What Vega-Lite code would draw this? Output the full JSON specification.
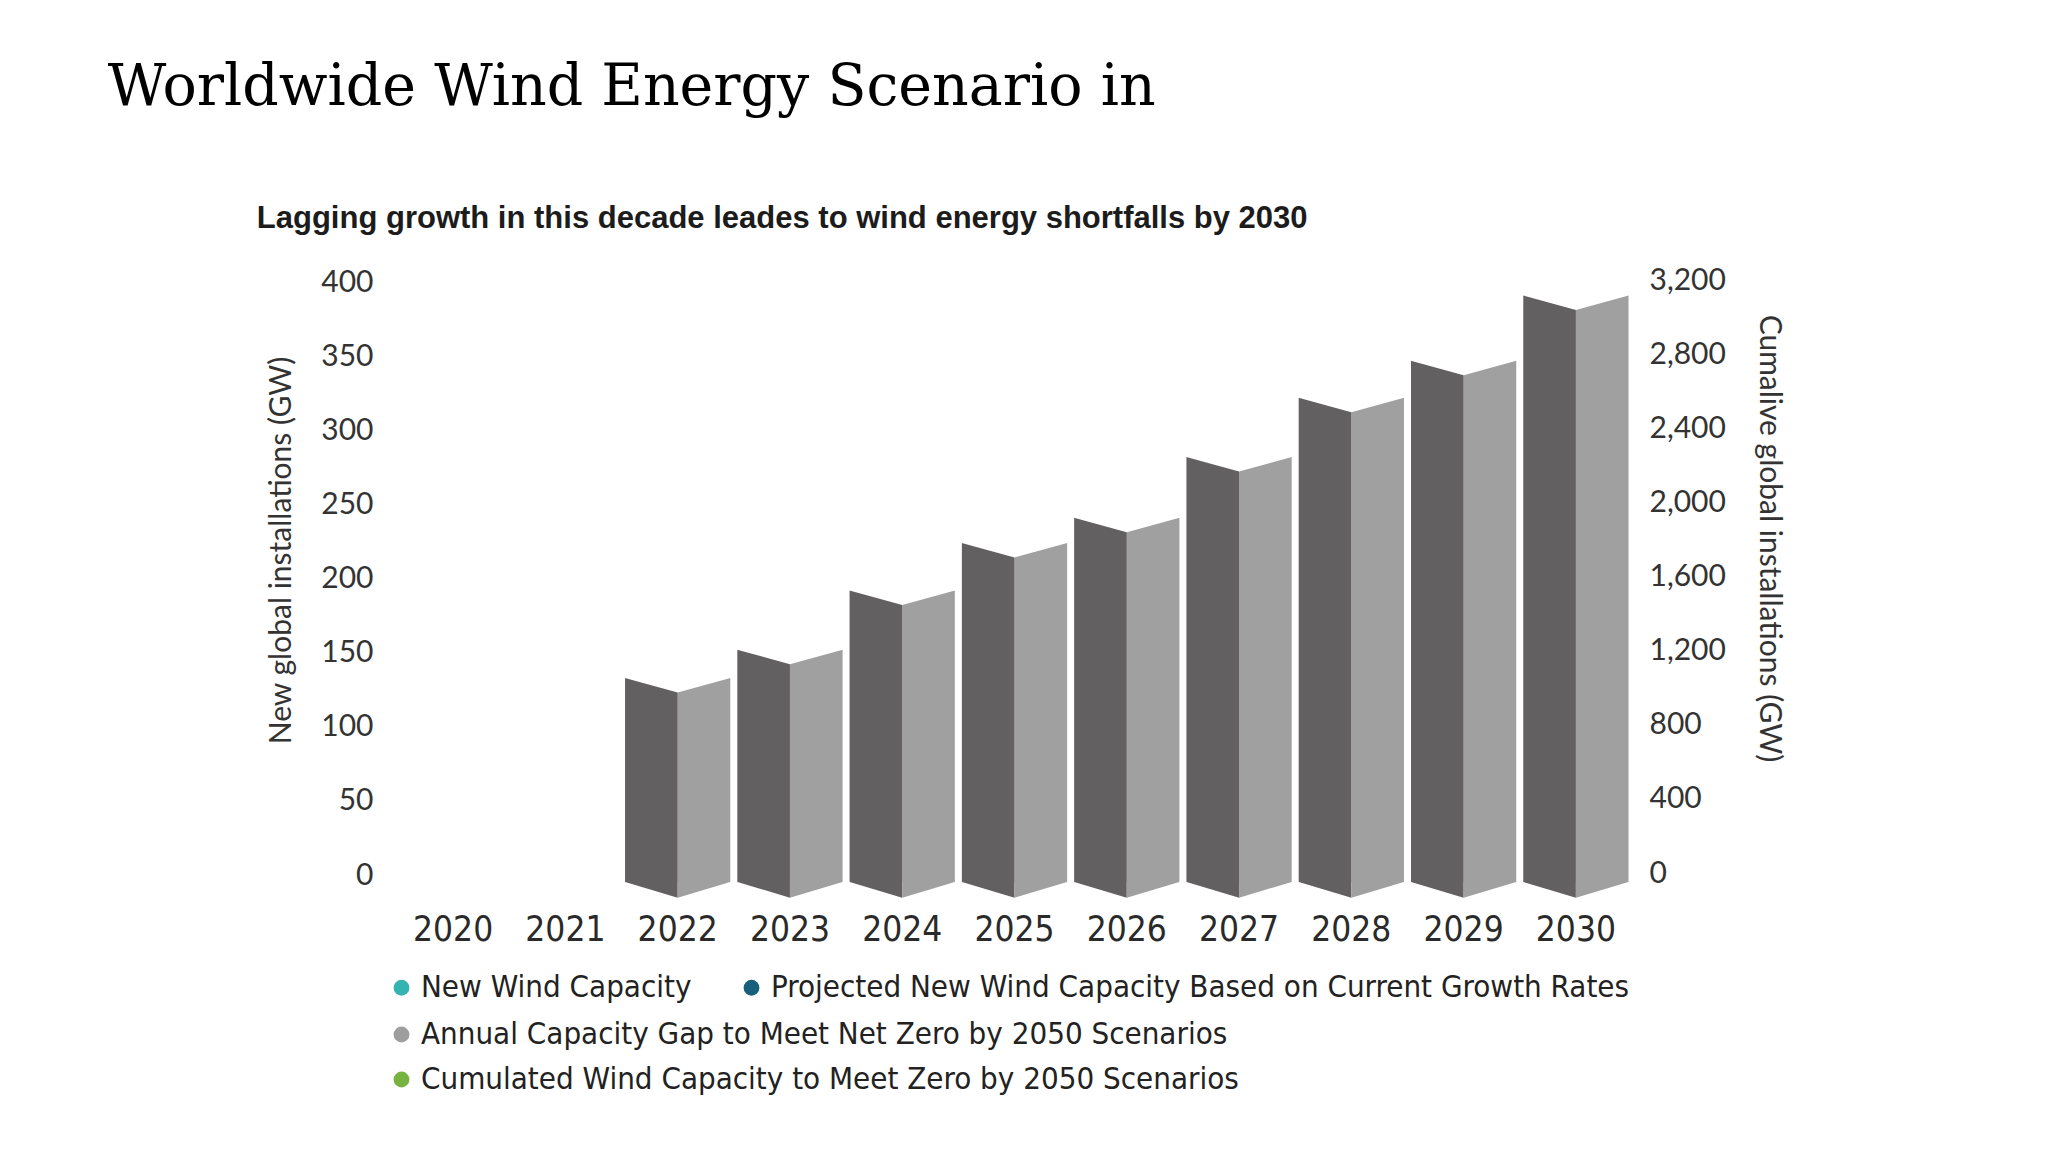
{
  "$schema": "https://vega.github.io/schema/vega-lite/v6.json",
  "background": "white",
  "padding": {"left": 107, "top": 59, "right": 20, "bottom": 0},
  "config": {
    "view": {"stroke": null},
    "axis": {"grid": false, "ticks": false, "domain": false}
  },
  "title": {
    "text": "Worldwide Wind Energy Scenario in",
    "anchor": "start",
    "dx": -149,
    "font": "DejaVu Serif",
    "fontSize": 57,
    "fontWeight": "normal",
    "color": "#000000",
    "offset": 86
  },
  "vconcat": [
    {
      "width": 1235,
      "height": 593,
      "title": {
        "text": "Lagging growth in this decade leades to wind energy shortfalls by 2030",
        "anchor": "start",
        "frame": "bounds",
        "dx": -10,
        "font": "Liberation Sans",
        "fontSize": 31,
        "fontWeight": "bold",
        "color": "#1c1c1c",
        "offset": 30
      },
      "data": {
        "values": [
          {"year": 2022, "measure": "New", "value": 138},
          {"year": 2023, "measure": "New", "value": 157},
          {"year": 2024, "measure": "New", "value": 197},
          {"year": 2025, "measure": "New", "value": 229},
          {"year": 2026, "measure": "New", "value": 246},
          {"year": 2027, "measure": "New", "value": 287},
          {"year": 2028, "measure": "New", "value": 327},
          {"year": 2029, "measure": "New", "value": 352},
          {"year": 2030, "measure": "New", "value": 396},
          {"year": 2022, "measure": "Cumulative", "value": 1104},
          {"year": 2023, "measure": "Cumulative", "value": 1256},
          {"year": 2024, "measure": "Cumulative", "value": 1576},
          {"year": 2025, "measure": "Cumulative", "value": 1832},
          {"year": 2026, "measure": "Cumulative", "value": 1968},
          {"year": 2027, "measure": "Cumulative", "value": 2296},
          {"year": 2028, "measure": "Cumulative", "value": 2616},
          {"year": 2029, "measure": "Cumulative", "value": 2816},
          {"year": 2030, "measure": "Cumulative", "value": 3168}
        ]
      },
      "layer": [
        {
          "transform": [{"filter": "datum.measure === 'Cumulative'"}],
          "mark": {"type": "bar", "color": "#a0a0a0"},
          "encoding": {
            "x": {
              "field": "year",
              "type": "ordinal",
              "scale": {"domain": [2020, 2021, 2022, 2023, 2024, 2025, 2026, 2027, 2028, 2029, 2030], "paddingInner": 0.0625, "paddingOuter": 0.031},
              "axis": {
                "title": null,
                "labelAngle": 0,
                "labelPadding": 30,
                "labelFont": "Liberation Sans Narrow, DejaVu Sans Condensed",
                "labelFontSize": 35,
                "labelColor": "#2a2a2a"
              }
            },
            "xOffset": {"field": "measure", "type": "nominal", "scale": {"domain": ["New", "Cumulative"], "paddingInner": 0, "paddingOuter": 0}},
            "y": {
              "field": "value",
              "type": "quantitative",
              "scale": {"domain": [0, 3200], "nice": false},
              "axis": {
                "orient": "right",
                "values": [0, 400, 800, 1200, 1600, 2000, 2400, 2800, 3200],
                "format": ",.0f",
                "labelPadding": 17,
                "labelOffset": -9,
                "labelFont": "Lato",
                "labelFontSize": 30,
                "labelColor": "#333333",
                "title": "Cumalive global installations (GW)",
                "titleFont": "Lato",
                "titleFontSize": 30,
                "titleFontWeight": "normal",
                "titleColor": "#333333",
                "titlePadding": 28,
                "titleY": 249
              }
            }
          }
        },
        {
          "layer": [
            {
              "transform": [{"filter": "datum.measure === 'New'"}],
              "mark": {"type": "bar", "color": "#636061"},
              "encoding": {
                "x": {"field": "year", "type": "ordinal"},
                "xOffset": {"field": "measure", "type": "nominal", "scale": {"domain": ["New", "Cumulative"], "paddingInner": 0, "paddingOuter": 0}},
                "y": {
                  "field": "value",
                  "type": "quantitative",
                  "scale": {"domain": [0, 400], "nice": false},
                  "axis": {
                    "orient": "left",
                    "values": [0, 50, 100, 150, 200, 250, 300, 350, 400],
                    "labelPadding": 24,
                    "labelOffset": -7,
                    "labelFont": "Lato",
                    "labelFontSize": 30,
                    "labelColor": "#333333",
                    "title": "New global installations (GW)",
                    "titleFont": "Lato",
                    "titleFontSize": 30,
                    "titleFontWeight": "normal",
                    "titleColor": "#333333",
                    "titlePadding": 24,
                    "titleY": 261
                  }
                }
              }
            },
            {
              "transform": [{"filter": "datum.measure === 'New'"}],
              "mark": {"type": "point", "filled": true, "opacity": 1, "color": "#636061", "shape": "M-1,0L0,0L0,0.3Z", "size": 11025, "strokeWidth": 0},
              "encoding": {
                "x": {"field": "year", "type": "ordinal"},
                "y": {"datum": 0, "type": "quantitative"}
              }
            },
            {
              "transform": [{"filter": "datum.measure === 'New'"}],
              "mark": {"type": "point", "filled": true, "opacity": 1, "color": "#a0a0a0", "shape": "M0,0L1,0L0,0.3Z", "size": 11025, "strokeWidth": 0},
              "encoding": {
                "x": {"field": "year", "type": "ordinal"},
                "y": {"datum": 0, "type": "quantitative"}
              }
            },
            {
              "transform": [{"filter": "datum.measure === 'New'"}],
              "mark": {"type": "point", "filled": true, "opacity": 1, "color": "#ffffff", "shape": "M-1.03,-0.03L1.03,-0.03L1.03,0L0,0.283L-1.03,0Z", "size": 11236, "strokeWidth": 0},
              "encoding": {
                "x": {"field": "year", "type": "ordinal"},
                "y": {"field": "value", "type": "quantitative"}
              }
            }
          ]
        },
        {
          "data": {"values": [{"series": "New Wind Capacity"}, {"series": "Projected New Wind Capacity Based on Current Growth Rates"}]},
          "mark": {"type": "point", "filled": true, "opacity": 0, "shape": "circle"},
          "encoding": {
            "color": {
              "field": "series",
              "type": "nominal",
              "scale": {"domain": ["New Wind Capacity", "Projected New Wind Capacity Based on Current Growth Rates"], "range": ["#35b3b0", "#17607c"]},
              "legend": {
                "orient": "none",
                "legendX": -11,
                "legendY": 683,
                "direction": "horizontal",
                "title": null,
                "padding": 0,
                "labelFont": "Liberation Sans Narrow, DejaVu Sans Condensed",
                "labelFontSize": 31,
                "labelColor": "#222222",
                "labelLimit": 2000,
                "labelOffset": 4,
                "symbolType": "circle",
                "symbolSize": 250,
                "symbolStrokeWidth": 0,
                "symbolOpacity": 1,
                "columnPadding": 44
              }
            }
          }
        },
        {
          "data": {"values": [{"series": "Annual Capacity Gap to Meet Net Zero by 2050 Scenarios"}, {"series": "Cumulated Wind Capacity to Meet Zero by 2050 Scenarios"}]},
          "mark": {"type": "point", "filled": true, "opacity": 0, "shape": "circle"},
          "encoding": {
            "color": {
              "field": "series",
              "type": "nominal",
              "scale": {"domain": ["Annual Capacity Gap to Meet Net Zero by 2050 Scenarios", "Cumulated Wind Capacity to Meet Zero by 2050 Scenarios"], "range": ["#9e9e9e", "#77b43f"]},
              "legend": {
                "orient": "none",
                "legendX": -11,
                "legendY": 730,
                "direction": "vertical",
                "title": null,
                "padding": 0,
                "labelFont": "Liberation Sans Narrow, DejaVu Sans Condensed",
                "labelFontSize": 31,
                "labelColor": "#222222",
                "labelLimit": 2000,
                "labelOffset": 4,
                "symbolType": "circle",
                "symbolSize": 250,
                "symbolStrokeWidth": 0,
                "symbolOpacity": 1,
                "rowPadding": 13
              }
            }
          }
        }
      ],
      "resolve": {"scale": {"y": "independent", "color": "independent"}}
    }
  ]
}
